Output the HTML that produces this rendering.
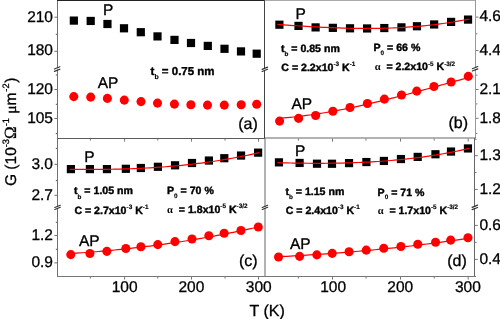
<!DOCTYPE html>
<html><head><meta charset="utf-8"><style>
html,body{margin:0;padding:0;background:#fff;}
body{width:500px;height:319px;overflow:hidden;}
svg{display:block;text-rendering:geometricPrecision;font-family:"Liberation Sans",sans-serif;}
</style></head><body>
<svg width="500" height="319" viewBox="0 0 500 319">
<rect width="500" height="319" fill="#fff"/>
<line x1="57.5" y1="0" x2="57.5" y2="277" stroke="#707070" stroke-width="1"/>
<line x1="57" y1="0.5" x2="265" y2="0.5" stroke="#222" stroke-width="1"/>
<line x1="265" y1="0.5" x2="476" y2="0.5" stroke="#aaa" stroke-width="1"/>
<line x1="264.5" y1="0" x2="264.5" y2="138.5" stroke="#444" stroke-width="1"/>
<line x1="265" y1="138.5" x2="265" y2="277" stroke="#666" stroke-width="1"/>
<line x1="475.5" y1="0" x2="475.5" y2="138" stroke="#999" stroke-width="1"/>
<line x1="474.5" y1="138" x2="474.5" y2="277" stroke="#666" stroke-width="1"/>
<line x1="57" y1="138.5" x2="265" y2="138.5" stroke="#5a5a5a" stroke-width="1"/>
<line x1="265" y1="138" x2="476" y2="138" stroke="#666" stroke-width="1"/>
<line x1="57" y1="276.5" x2="476" y2="276.5" stroke="#777" stroke-width="1"/>
<line x1="54.4" y1="17.2" x2="57" y2="17.2" stroke="#707070" stroke-width="1"/>
<line x1="54.4" y1="51.3" x2="57" y2="51.3" stroke="#707070" stroke-width="1"/>
<line x1="54.4" y1="89.5" x2="57" y2="89.5" stroke="#707070" stroke-width="1"/>
<line x1="54.4" y1="118.5" x2="57" y2="118.5" stroke="#707070" stroke-width="1"/>
<line x1="54.4" y1="164.3" x2="57" y2="164.3" stroke="#707070" stroke-width="1"/>
<line x1="54.4" y1="195.3" x2="57" y2="195.3" stroke="#707070" stroke-width="1"/>
<line x1="54.4" y1="235.5" x2="57" y2="235.5" stroke="#707070" stroke-width="1"/>
<line x1="54.4" y1="262.9" x2="57" y2="262.9" stroke="#707070" stroke-width="1"/>
<line x1="55.8" y1="34.3" x2="57" y2="34.3" stroke="#555" stroke-width="1"/>
<line x1="55.8" y1="75" x2="57" y2="75" stroke="#555" stroke-width="1"/>
<line x1="55.8" y1="104.3" x2="57" y2="104.3" stroke="#555" stroke-width="1"/>
<line x1="55.8" y1="133.6" x2="57" y2="133.6" stroke="#555" stroke-width="1"/>
<line x1="55.8" y1="148.4" x2="57" y2="148.4" stroke="#555" stroke-width="1"/>
<line x1="55.8" y1="180.6" x2="57" y2="180.6" stroke="#555" stroke-width="1"/>
<line x1="55.8" y1="222.3" x2="57" y2="222.3" stroke="#555" stroke-width="1"/>
<line x1="55.8" y1="249.3" x2="57" y2="249.3" stroke="#555" stroke-width="1"/>
<line x1="476" y1="17.1" x2="478.5" y2="17.1" stroke="#777" stroke-width="1"/>
<line x1="476" y1="50.5" x2="478.5" y2="50.5" stroke="#777" stroke-width="1"/>
<line x1="476" y1="89.5" x2="478.5" y2="89.5" stroke="#777" stroke-width="1"/>
<line x1="476" y1="118.3" x2="478.5" y2="118.3" stroke="#777" stroke-width="1"/>
<line x1="475" y1="155.7" x2="477.8" y2="155.7" stroke="#777" stroke-width="1"/>
<line x1="475" y1="189.4" x2="477.8" y2="189.4" stroke="#777" stroke-width="1"/>
<line x1="475" y1="225.4" x2="477.8" y2="225.4" stroke="#777" stroke-width="1"/>
<line x1="475" y1="259.4" x2="477.8" y2="259.4" stroke="#777" stroke-width="1"/>
<line x1="476" y1="33.8" x2="477.4" y2="33.8" stroke="#777" stroke-width="1"/>
<line x1="476" y1="75.1" x2="477.4" y2="75.1" stroke="#777" stroke-width="1"/>
<line x1="476" y1="103.9" x2="477.4" y2="103.9" stroke="#777" stroke-width="1"/>
<line x1="476" y1="133.4" x2="477.4" y2="133.4" stroke="#777" stroke-width="1"/>
<line x1="475" y1="139.3" x2="476.6" y2="139.3" stroke="#777" stroke-width="1"/>
<line x1="475" y1="172.5" x2="476.6" y2="172.5" stroke="#777" stroke-width="1"/>
<line x1="475" y1="242.4" x2="476.6" y2="242.4" stroke="#777" stroke-width="1"/>
<line x1="90.4" y1="277" x2="90.4" y2="278.6" stroke="#777" stroke-width="1"/>
<line x1="90.4" y1="139" x2="90.4" y2="140.6" stroke="#777" stroke-width="1"/>
<line x1="124.6" y1="277" x2="124.6" y2="279.6" stroke="#777" stroke-width="1"/>
<line x1="124.6" y1="139" x2="124.6" y2="141.6" stroke="#777" stroke-width="1"/>
<line x1="157.8" y1="277" x2="157.8" y2="278.6" stroke="#777" stroke-width="1"/>
<line x1="157.8" y1="139" x2="157.8" y2="140.6" stroke="#777" stroke-width="1"/>
<line x1="191.5" y1="277" x2="191.5" y2="279.6" stroke="#777" stroke-width="1"/>
<line x1="191.5" y1="139" x2="191.5" y2="141.6" stroke="#777" stroke-width="1"/>
<line x1="225" y1="277" x2="225" y2="278.6" stroke="#777" stroke-width="1"/>
<line x1="225" y1="139" x2="225" y2="140.6" stroke="#777" stroke-width="1"/>
<line x1="258.5" y1="277" x2="258.5" y2="279.6" stroke="#777" stroke-width="1"/>
<line x1="258.5" y1="139" x2="258.5" y2="141.6" stroke="#777" stroke-width="1"/>
<line x1="298.4" y1="277" x2="298.4" y2="278.6" stroke="#777" stroke-width="1"/>
<line x1="298.4" y1="138.5" x2="298.4" y2="140.6" stroke="#777" stroke-width="1"/>
<line x1="332.5" y1="277" x2="332.5" y2="279.6" stroke="#777" stroke-width="1"/>
<line x1="332.5" y1="138.5" x2="332.5" y2="141.6" stroke="#777" stroke-width="1"/>
<line x1="366" y1="277" x2="366" y2="278.6" stroke="#777" stroke-width="1"/>
<line x1="366" y1="138.5" x2="366" y2="140.6" stroke="#777" stroke-width="1"/>
<line x1="400.5" y1="277" x2="400.5" y2="279.6" stroke="#777" stroke-width="1"/>
<line x1="400.5" y1="138.5" x2="400.5" y2="141.6" stroke="#777" stroke-width="1"/>
<line x1="434.2" y1="277" x2="434.2" y2="278.6" stroke="#777" stroke-width="1"/>
<line x1="434.2" y1="138.5" x2="434.2" y2="140.6" stroke="#777" stroke-width="1"/>
<line x1="468.2" y1="277" x2="468.2" y2="279.6" stroke="#777" stroke-width="1"/>
<line x1="468.2" y1="138.5" x2="468.2" y2="141.6" stroke="#777" stroke-width="1"/>
<polygon points="55.65,69.05 58.65,67.85 58.65,69.10 55.65,70.30" fill="#fff"/>
<g stroke="#333" stroke-width="1.15" stroke-linecap="round"><line x1="54.40" y1="68.95" x2="59.90" y2="66.75"/><line x1="54.40" y1="71.40" x2="59.90" y2="69.20"/></g>
<polygon points="263.35,69.45 266.35,68.25 266.35,69.20 263.35,70.40" fill="#fff"/>
<g stroke="#333" stroke-width="1.15" stroke-linecap="round"><line x1="262.10" y1="69.35" x2="267.60" y2="67.15"/><line x1="262.10" y1="71.50" x2="267.60" y2="69.30"/></g>
<polygon points="473.60,68.85 476.60,67.65 476.60,68.75 473.60,69.95" fill="#fff"/>
<g stroke="#333" stroke-width="1.15" stroke-linecap="round"><line x1="472.35" y1="68.75" x2="477.85" y2="66.55"/><line x1="472.35" y1="71.05" x2="477.85" y2="68.85"/></g>
<polygon points="56.05,207.55 59.05,206.35 59.05,207.20 56.05,208.40" fill="#fff"/>
<g stroke="#333" stroke-width="1.15" stroke-linecap="round"><line x1="54.80" y1="207.45" x2="60.30" y2="205.25"/><line x1="54.80" y1="209.50" x2="60.30" y2="207.30"/></g>
<polygon points="263.45,207.55 266.45,206.35 266.45,207.20 263.45,208.40" fill="#fff"/>
<g stroke="#333" stroke-width="1.15" stroke-linecap="round"><line x1="262.20" y1="207.45" x2="267.70" y2="205.25"/><line x1="262.20" y1="209.50" x2="267.70" y2="207.30"/></g>
<polygon points="473.35,207.45 476.35,206.25 476.35,207.35 473.35,208.55" fill="#fff"/>
<g stroke="#333" stroke-width="1.15" stroke-linecap="round"><line x1="472.10" y1="207.35" x2="477.60" y2="205.15"/><line x1="472.10" y1="209.65" x2="477.60" y2="207.45"/></g>
<rect x="69.75" y="16.50" width="8.2" height="8.2" fill="#000"/>
<rect x="86.60" y="16.85" width="8.2" height="8.2" fill="#000"/>
<rect x="103.35" y="19.90" width="8.2" height="8.2" fill="#000"/>
<rect x="119.90" y="24.20" width="8.2" height="8.2" fill="#000"/>
<rect x="136.70" y="28.10" width="8.2" height="8.2" fill="#000"/>
<rect x="153.40" y="32.30" width="8.2" height="8.2" fill="#000"/>
<rect x="170.40" y="35.80" width="8.2" height="8.2" fill="#000"/>
<rect x="186.90" y="38.90" width="8.2" height="8.2" fill="#000"/>
<rect x="203.70" y="41.80" width="8.2" height="8.2" fill="#000"/>
<rect x="220.40" y="44.70" width="8.2" height="8.2" fill="#000"/>
<rect x="236.90" y="47.30" width="8.2" height="8.2" fill="#000"/>
<rect x="252.60" y="49.60" width="8.2" height="8.2" fill="#000"/>
<circle cx="73.80" cy="96.60" r="4.55" fill="#ff0000"/>
<circle cx="90.70" cy="97.10" r="4.55" fill="#ff0000"/>
<circle cx="107.40" cy="98.40" r="4.55" fill="#ff0000"/>
<circle cx="124.30" cy="100.10" r="4.55" fill="#ff0000"/>
<circle cx="141.00" cy="101.60" r="4.55" fill="#ff0000"/>
<circle cx="157.50" cy="103.10" r="4.55" fill="#ff0000"/>
<circle cx="174.40" cy="104.10" r="4.55" fill="#ff0000"/>
<circle cx="190.90" cy="104.80" r="4.55" fill="#ff0000"/>
<circle cx="207.50" cy="105.10" r="4.55" fill="#ff0000"/>
<circle cx="224.30" cy="105.10" r="4.55" fill="#ff0000"/>
<circle cx="241.20" cy="104.80" r="4.55" fill="#ff0000"/>
<circle cx="256.70" cy="104.30" r="4.55" fill="#ff0000"/>
<rect x="275.30" y="20.60" width="8.2" height="8.2" fill="#000"/>
<rect x="294.40" y="21.80" width="8.2" height="8.2" fill="#000"/>
<rect x="311.50" y="23.30" width="8.2" height="8.2" fill="#000"/>
<rect x="328.75" y="23.75" width="8.2" height="8.2" fill="#000"/>
<rect x="345.90" y="24.20" width="8.2" height="8.2" fill="#000"/>
<rect x="363.00" y="24.35" width="8.2" height="8.2" fill="#000"/>
<rect x="380.20" y="23.95" width="8.2" height="8.2" fill="#000"/>
<rect x="397.35" y="23.25" width="8.2" height="8.2" fill="#000"/>
<rect x="412.85" y="22.15" width="8.2" height="8.2" fill="#000"/>
<rect x="430.05" y="20.35" width="8.2" height="8.2" fill="#000"/>
<rect x="447.00" y="17.80" width="8.2" height="8.2" fill="#000"/>
<rect x="463.95" y="15.50" width="8.2" height="8.2" fill="#000"/>
<circle cx="279.60" cy="121.10" r="4.55" fill="#ff0000"/>
<circle cx="298.60" cy="118.40" r="4.55" fill="#ff0000"/>
<circle cx="315.65" cy="115.50" r="4.55" fill="#ff0000"/>
<circle cx="332.90" cy="111.30" r="4.55" fill="#ff0000"/>
<circle cx="350.00" cy="107.45" r="4.55" fill="#ff0000"/>
<circle cx="367.40" cy="103.50" r="4.55" fill="#ff0000"/>
<circle cx="384.40" cy="99.15" r="4.55" fill="#ff0000"/>
<circle cx="401.50" cy="95.05" r="4.55" fill="#ff0000"/>
<circle cx="416.75" cy="91.15" r="4.55" fill="#ff0000"/>
<circle cx="433.95" cy="86.55" r="4.55" fill="#ff0000"/>
<circle cx="451.15" cy="82.00" r="4.55" fill="#ff0000"/>
<circle cx="468.30" cy="76.35" r="4.55" fill="#ff0000"/>
<rect x="66.80" y="165.00" width="8.2" height="8.2" fill="#000"/>
<rect x="85.80" y="165.00" width="8.2" height="8.2" fill="#000"/>
<rect x="102.85" y="165.00" width="8.2" height="8.2" fill="#000"/>
<rect x="121.75" y="164.70" width="8.2" height="8.2" fill="#000"/>
<rect x="136.75" y="163.90" width="8.2" height="8.2" fill="#000"/>
<rect x="153.80" y="162.70" width="8.2" height="8.2" fill="#000"/>
<rect x="170.95" y="161.20" width="8.2" height="8.2" fill="#000"/>
<rect x="187.90" y="158.90" width="8.2" height="8.2" fill="#000"/>
<rect x="204.80" y="156.45" width="8.2" height="8.2" fill="#000"/>
<rect x="220.20" y="154.10" width="8.2" height="8.2" fill="#000"/>
<rect x="236.95" y="151.45" width="8.2" height="8.2" fill="#000"/>
<rect x="254.00" y="148.55" width="8.2" height="8.2" fill="#000"/>
<circle cx="70.80" cy="254.60" r="4.55" fill="#ff0000"/>
<circle cx="89.90" cy="253.55" r="4.55" fill="#ff0000"/>
<circle cx="106.85" cy="251.35" r="4.55" fill="#ff0000"/>
<circle cx="125.85" cy="248.50" r="4.55" fill="#ff0000"/>
<circle cx="140.90" cy="246.70" r="4.55" fill="#ff0000"/>
<circle cx="157.80" cy="244.60" r="4.55" fill="#ff0000"/>
<circle cx="174.95" cy="241.60" r="4.55" fill="#ff0000"/>
<circle cx="192.00" cy="239.00" r="4.55" fill="#ff0000"/>
<circle cx="208.85" cy="235.80" r="4.55" fill="#ff0000"/>
<circle cx="224.15" cy="233.30" r="4.55" fill="#ff0000"/>
<circle cx="240.95" cy="230.55" r="4.55" fill="#ff0000"/>
<circle cx="258.30" cy="226.95" r="4.55" fill="#ff0000"/>
<rect x="274.85" y="158.25" width="8.2" height="8.2" fill="#000"/>
<rect x="295.50" y="158.85" width="8.2" height="8.2" fill="#000"/>
<rect x="312.90" y="159.60" width="8.2" height="8.2" fill="#000"/>
<rect x="327.90" y="159.65" width="8.2" height="8.2" fill="#000"/>
<rect x="344.95" y="159.00" width="8.2" height="8.2" fill="#000"/>
<rect x="362.30" y="157.95" width="8.2" height="8.2" fill="#000"/>
<rect x="379.80" y="156.85" width="8.2" height="8.2" fill="#000"/>
<rect x="396.85" y="154.95" width="8.2" height="8.2" fill="#000"/>
<rect x="413.60" y="152.80" width="8.2" height="8.2" fill="#000"/>
<rect x="431.35" y="150.15" width="8.2" height="8.2" fill="#000"/>
<rect x="446.90" y="147.45" width="8.2" height="8.2" fill="#000"/>
<rect x="463.85" y="144.35" width="8.2" height="8.2" fill="#000"/>
<circle cx="278.55" cy="256.95" r="4.55" fill="#ff0000"/>
<circle cx="299.60" cy="256.35" r="4.55" fill="#ff0000"/>
<circle cx="316.85" cy="254.85" r="4.55" fill="#ff0000"/>
<circle cx="332.20" cy="253.40" r="4.55" fill="#ff0000"/>
<circle cx="349.10" cy="251.70" r="4.55" fill="#ff0000"/>
<circle cx="366.25" cy="250.15" r="4.55" fill="#ff0000"/>
<circle cx="383.75" cy="248.30" r="4.55" fill="#ff0000"/>
<circle cx="400.90" cy="246.50" r="4.55" fill="#ff0000"/>
<circle cx="417.80" cy="244.30" r="4.55" fill="#ff0000"/>
<circle cx="435.55" cy="242.25" r="4.55" fill="#ff0000"/>
<circle cx="450.70" cy="240.15" r="4.55" fill="#ff0000"/>
<circle cx="467.95" cy="237.80" r="4.55" fill="#ff0000"/>
<path d="M277.30,24.40 L280.55,24.64 L283.81,24.87 L287.06,25.10 L290.31,25.33 L293.56,25.55 L296.82,25.77 L300.07,25.98 L303.32,26.19 L306.57,26.39 L309.83,26.58 L313.08,26.77 L316.33,26.95 L319.58,27.12 L322.84,27.28 L326.09,27.43 L329.34,27.58 L332.59,27.71 L335.85,27.84 L339.10,27.95 L342.35,28.06 L345.60,28.15 L348.86,28.23 L352.11,28.30 L355.36,28.35 L358.61,28.40 L361.87,28.42 L365.12,28.44 L368.37,28.44 L371.62,28.43 L374.88,28.40 L378.13,28.35 L381.38,28.29 L384.63,28.21 L387.89,28.12 L391.14,28.00 L394.39,27.87 L397.64,27.73 L400.90,27.56 L404.15,27.37 L407.40,27.17 L410.65,26.94 L413.91,26.69 L417.16,26.43 L420.41,26.14 L423.66,25.83 L426.92,25.50 L430.17,25.14 L433.42,24.77 L436.67,24.36 L439.93,23.94 L443.18,23.49 L446.43,23.02 L449.68,22.52 L452.94,21.99 L456.19,21.44 L459.44,20.86 L462.69,20.26 L465.95,19.63 L469.20,18.97" fill="none" stroke="#ff0000" stroke-width="1.2" stroke-linejoin="round"/>
<path d="M277.30,118.45 L280.55,118.21 L283.81,117.95 L287.06,117.66 L290.31,117.35 L293.56,117.02 L296.82,116.66 L300.07,116.28 L303.32,115.88 L306.57,115.45 L309.83,115.01 L313.08,114.54 L316.33,114.05 L319.58,113.55 L322.84,113.02 L326.09,112.48 L329.34,111.92 L332.59,111.34 L335.85,110.74 L339.10,110.13 L342.35,109.50 L345.60,108.85 L348.86,108.19 L352.11,107.51 L355.36,106.82 L358.61,106.12 L361.87,105.40 L365.12,104.67 L368.37,103.93 L371.62,103.17 L374.88,102.41 L378.13,101.63 L381.38,100.84 L384.63,100.05 L387.89,99.24 L391.14,98.42 L394.39,97.60 L397.64,96.77 L400.90,95.92 L404.15,95.08 L407.40,94.22 L410.65,93.36 L413.91,92.50 L417.16,91.63 L420.41,90.75 L423.66,89.87 L426.92,88.99 L430.17,88.10 L433.42,87.21 L436.67,86.32 L439.93,85.42 L443.18,84.53 L446.43,83.63 L449.68,82.74 L452.94,81.84 L456.19,80.95 L459.44,80.05 L462.69,79.16 L465.95,78.27 L469.20,77.38" fill="none" stroke="#ff0000" stroke-width="1.2" stroke-linejoin="round"/>
<path d="M69.80,169.28 L73.01,169.32 L76.21,169.36 L79.42,169.39 L82.63,169.41 L85.83,169.43 L89.04,169.44 L92.25,169.44 L95.45,169.43 L98.66,169.42 L101.87,169.39 L105.07,169.36 L108.28,169.32 L111.49,169.26 L114.69,169.20 L117.90,169.13 L121.11,169.05 L124.32,168.96 L127.52,168.86 L130.73,168.75 L133.94,168.62 L137.14,168.49 L140.35,168.34 L143.56,168.18 L146.76,168.01 L149.97,167.83 L153.18,167.64 L156.38,167.43 L159.59,167.21 L162.80,166.98 L166.00,166.73 L169.21,166.47 L172.42,166.19 L175.62,165.90 L178.83,165.60 L182.04,165.28 L185.24,164.95 L188.45,164.60 L191.66,164.24 L194.86,163.86 L198.07,163.47 L201.28,163.05 L204.48,162.63 L207.69,162.18 L210.90,161.72 L214.11,161.24 L217.31,160.75 L220.52,160.24 L223.73,159.70 L226.93,159.16 L230.14,158.59 L233.35,158.00 L236.55,157.40 L239.76,156.77 L242.97,156.13 L246.17,155.47 L249.38,154.79 L252.59,154.08 L255.79,153.36 L259.00,152.62" fill="none" stroke="#ff0000" stroke-width="1.2" stroke-linejoin="round"/>
<path d="M69.80,253.60 L73.01,253.39 L76.21,253.18 L79.42,252.96 L82.63,252.74 L85.83,252.50 L89.04,252.26 L92.25,252.00 L95.45,251.74 L98.66,251.48 L101.87,251.20 L105.07,250.91 L108.28,250.62 L111.49,250.32 L114.69,250.01 L117.90,249.69 L121.11,249.36 L124.32,249.03 L127.52,248.68 L130.73,248.33 L133.94,247.97 L137.14,247.60 L140.35,247.22 L143.56,246.83 L146.76,246.44 L149.97,246.03 L153.18,245.62 L156.38,245.19 L159.59,244.76 L162.80,244.32 L166.00,243.87 L169.21,243.42 L172.42,242.95 L175.62,242.47 L178.83,241.99 L182.04,241.49 L185.24,240.99 L188.45,240.48 L191.66,239.95 L194.86,239.42 L198.07,238.88 L201.28,238.33 L204.48,237.77 L207.69,237.21 L210.90,236.63 L214.11,236.04 L217.31,235.44 L220.52,234.84 L223.73,234.22 L226.93,233.60 L230.14,232.96 L233.35,232.32 L236.55,231.66 L239.76,231.00 L242.97,230.33 L246.17,229.64 L249.38,228.95 L252.59,228.25 L255.79,227.53 L259.00,226.81" fill="none" stroke="#ff0000" stroke-width="1.2" stroke-linejoin="round"/>
<path d="M277.30,162.72 L280.55,162.80 L283.81,162.88 L287.06,162.94 L290.31,163.01 L293.56,163.07 L296.82,163.12 L300.07,163.17 L303.32,163.20 L306.57,163.24 L309.83,163.26 L313.08,163.28 L316.33,163.29 L319.58,163.29 L322.84,163.28 L326.09,163.26 L329.34,163.24 L332.59,163.20 L335.85,163.15 L339.10,163.10 L342.35,163.03 L345.60,162.95 L348.86,162.86 L352.11,162.76 L355.36,162.64 L358.61,162.52 L361.87,162.38 L365.12,162.22 L368.37,162.06 L371.62,161.88 L374.88,161.68 L378.13,161.48 L381.38,161.25 L384.63,161.01 L387.89,160.76 L391.14,160.49 L394.39,160.20 L397.64,159.90 L400.90,159.58 L404.15,159.25 L407.40,158.89 L410.65,158.52 L413.91,158.13 L417.16,157.72 L420.41,157.29 L423.66,156.85 L426.92,156.38 L430.17,155.89 L433.42,155.39 L436.67,154.86 L439.93,154.31 L443.18,153.74 L446.43,153.15 L449.68,152.54 L452.94,151.91 L456.19,151.25 L459.44,150.57 L462.69,149.86 L465.95,149.14 L469.20,148.39" fill="none" stroke="#ff0000" stroke-width="1.2" stroke-linejoin="round"/>
<path d="M277.30,256.80 L280.55,256.63 L283.81,256.46 L287.06,256.28 L290.31,256.10 L293.56,255.91 L296.82,255.72 L300.07,255.52 L303.32,255.32 L306.57,255.12 L309.83,254.91 L313.08,254.70 L316.33,254.48 L319.58,254.26 L322.84,254.03 L326.09,253.80 L329.34,253.57 L332.59,253.33 L335.85,253.08 L339.10,252.83 L342.35,252.58 L345.60,252.32 L348.86,252.05 L352.11,251.79 L355.36,251.51 L358.61,251.23 L361.87,250.94 L365.12,250.65 L368.37,250.36 L371.62,250.05 L374.88,249.75 L378.13,249.43 L381.38,249.12 L384.63,248.79 L387.89,248.46 L391.14,248.12 L394.39,247.78 L397.64,247.43 L400.90,247.08 L404.15,246.72 L407.40,246.35 L410.65,245.98 L413.91,245.60 L417.16,245.21 L420.41,244.82 L423.66,244.42 L426.92,244.02 L430.17,243.61 L433.42,243.19 L436.67,242.76 L439.93,242.33 L443.18,241.89 L446.43,241.44 L449.68,240.99 L452.94,240.53 L456.19,240.06 L459.44,239.59 L462.69,239.11 L465.95,238.62 L469.20,238.12" fill="none" stroke="#ff0000" stroke-width="1.2" stroke-linejoin="round"/>
<text x="53.0" y="21.6" font-size="15.5" text-anchor="end" font-weight="normal" stroke="#000" stroke-width="0.3" >210</text>
<text x="53.0" y="55.3" font-size="15.5" text-anchor="end" font-weight="normal" stroke="#000" stroke-width="0.3" >180</text>
<text x="53.0" y="94.0" font-size="15.5" text-anchor="end" font-weight="normal" stroke="#000" stroke-width="0.3" >120</text>
<text x="53.0" y="123.2" font-size="15.5" text-anchor="end" font-weight="normal" stroke="#000" stroke-width="0.3" >105</text>
<text x="53.0" y="168.9" font-size="15.5" text-anchor="end" font-weight="normal" stroke="#000" stroke-width="0.3" >3.0</text>
<text x="53.0" y="199.9" font-size="15.5" text-anchor="end" font-weight="normal" stroke="#000" stroke-width="0.3" >2.7</text>
<text x="53.0" y="240" font-size="15.5" text-anchor="end" font-weight="normal" stroke="#000" stroke-width="0.3" >1.2</text>
<text x="53.0" y="267" font-size="15.5" text-anchor="end" font-weight="normal" stroke="#000" stroke-width="0.3" >0.9</text>
<text x="479.4" y="20.7" font-size="15.5" text-anchor="start" font-weight="normal" stroke="#000" stroke-width="0.3" >4.6</text>
<text x="479.4" y="54.6" font-size="15.5" text-anchor="start" font-weight="normal" stroke="#000" stroke-width="0.3" >4.4</text>
<text x="479.4" y="94.2" font-size="15.5" text-anchor="start" font-weight="normal" stroke="#000" stroke-width="0.3" >2.1</text>
<text x="479.4" y="122.8" font-size="15.5" text-anchor="start" font-weight="normal" stroke="#000" stroke-width="0.3" >1.8</text>
<text x="479.4" y="160.2" font-size="15.5" text-anchor="start" font-weight="normal" stroke="#000" stroke-width="0.3" >1.3</text>
<text x="479.4" y="193.7" font-size="15.5" text-anchor="start" font-weight="normal" stroke="#000" stroke-width="0.3" >1.2</text>
<text x="479.4" y="229.8" font-size="15.5" text-anchor="start" font-weight="normal" stroke="#000" stroke-width="0.3" >0.6</text>
<text x="479.4" y="263.5" font-size="15.5" text-anchor="start" font-weight="normal" stroke="#000" stroke-width="0.3" >0.4</text>
<text x="124.6" y="292.2" font-size="15.5" text-anchor="middle" font-weight="normal" stroke="#000" stroke-width="0.3" >100</text>
<text x="191.4" y="292.2" font-size="15.5" text-anchor="middle" font-weight="normal" stroke="#000" stroke-width="0.3" >200</text>
<text x="258.8" y="292.2" font-size="15.5" text-anchor="middle" font-weight="normal" stroke="#000" stroke-width="0.3" >300</text>
<text x="333.2" y="292.2" font-size="15.5" text-anchor="middle" font-weight="normal" stroke="#000" stroke-width="0.3" >100</text>
<text x="400.3" y="292.2" font-size="15.5" text-anchor="middle" font-weight="normal" stroke="#000" stroke-width="0.3" >200</text>
<text x="467.9" y="292.2" font-size="15.5" text-anchor="middle" font-weight="normal" stroke="#000" stroke-width="0.3" >300</text>
<text x="267.2" y="316.2" font-size="16" text-anchor="middle" font-weight="normal" stroke="#000" stroke-width="0.3" >T (K)</text>
<text x="103.0" y="15.1" font-size="15.5" text-anchor="start" font-weight="normal" stroke="#000" stroke-width="0.3" >P</text>
<text x="97.7" y="88.4" font-size="15.5" text-anchor="start" font-weight="normal" stroke="#000" stroke-width="0.3" >AP</text>
<text x="295.4" y="18.8" font-size="15.5" text-anchor="start" font-weight="normal" stroke="#000" stroke-width="0.3" >P</text>
<text x="291.5" y="108.9" font-size="15.5" text-anchor="start" font-weight="normal" stroke="#000" stroke-width="0.3" >AP</text>
<text x="84.2" y="161.8" font-size="15.5" text-anchor="start" font-weight="normal" stroke="#000" stroke-width="0.3" >P</text>
<text x="78.9" y="245.6" font-size="15.5" text-anchor="start" font-weight="normal" stroke="#000" stroke-width="0.3" >AP</text>
<text x="295.1" y="155.9" font-size="15.5" text-anchor="start" font-weight="normal" stroke="#000" stroke-width="0.3" >P</text>
<text x="289.9" y="248.9" font-size="15.5" text-anchor="start" font-weight="normal" stroke="#000" stroke-width="0.3" >AP</text>
<text x="248.0" y="128.8" font-size="16" text-anchor="middle" font-weight="normal" stroke="#000" stroke-width="0.3" >(a)</text>
<text x="458.2" y="128.2" font-size="16" text-anchor="middle" font-weight="normal" stroke="#000" stroke-width="0.3" >(b)</text>
<text x="248.3" y="265.5" font-size="16" text-anchor="middle" font-weight="normal" stroke="#000" stroke-width="0.3" >(c)</text>
<text x="457.0" y="265.5" font-size="16" text-anchor="middle" font-weight="normal" stroke="#000" stroke-width="0.3" >(d)</text>
<text x="150.6" y="75.3" font-size="11.5" font-weight="bold" stroke="#000" stroke-width="0.4">t<tspan font-size="6.90" dy="4.00" stroke-width="0.15">b</tspan><tspan dy="-4.00" dx="0"> = 0.75 nm</tspan></text>
<text x="280.9" y="51.6" font-size="10.6" font-weight="bold" stroke="#000" stroke-width="0.4">t<tspan font-size="6.36" dy="4.30" stroke-width="0.15">b</tspan><tspan dy="-4.30" dx="0"> = 0.85 nm</tspan></text>
<text x="373.5" y="50.8" font-size="10.6" font-weight="bold" stroke="#000" stroke-width="0.4">P<tspan font-size="6.36" dy="3.70" stroke-width="0.15">0</tspan><tspan dy="-3.70" dx="0"> = 66 %</tspan></text>
<text x="281.3" y="70.8" font-size="10.6" font-weight="bold" stroke="#000" stroke-width="0.4">C = 2.2x10<tspan font-size="6.36" dy="-4.50" stroke-width="0.15">-3</tspan><tspan dy="4.50"> K</tspan><tspan font-size="6.36" dy="-4.50" stroke-width="0.15">-1</tspan></text>
<text x="374.7" y="70.1" font-size="10.6" font-family="Liberation Serif, serif" font-weight="bold">α</text>
<text x="386.4" y="70.1" font-size="10.6" font-weight="bold" stroke="#000" stroke-width="0.4">= 2.2x10<tspan font-size="6.36" dy="-4.50" stroke-width="0.15">-5</tspan><tspan dy="4.50"> K</tspan><tspan font-size="6.36" dy="-4.50" stroke-width="0.15">-3/2</tspan></text>
<text x="74.0" y="194.4" font-size="10.6" font-weight="bold" stroke="#000" stroke-width="0.4">t<tspan font-size="6.36" dy="4.30" stroke-width="0.15">b</tspan><tspan dy="-4.30" dx="0"> = 1.05 nm</tspan></text>
<text x="167.0" y="194.3" font-size="10.6" font-weight="bold" stroke="#000" stroke-width="0.4">P<tspan font-size="6.36" dy="3.70" stroke-width="0.15">0</tspan><tspan dy="-3.70" dx="0"> = 70 %</tspan></text>
<text x="74.4" y="213.5" font-size="10.6" font-weight="bold" stroke="#000" stroke-width="0.4">C = 2.7x10<tspan font-size="6.36" dy="-4.50" stroke-width="0.15">-3</tspan><tspan dy="4.50"> K</tspan><tspan font-size="6.36" dy="-4.50" stroke-width="0.15">-1</tspan></text>
<text x="167.1" y="212.7" font-size="10.6" font-family="Liberation Serif, serif" font-weight="bold">α</text>
<text x="178.8" y="212.7" font-size="10.6" font-weight="bold" stroke="#000" stroke-width="0.4">= 1.8x10<tspan font-size="6.36" dy="-4.50" stroke-width="0.15">-5</tspan><tspan dy="4.50"> K</tspan><tspan font-size="6.36" dy="-4.50" stroke-width="0.15">-3/2</tspan></text>
<text x="285.4" y="194.8" font-size="10.6" font-weight="bold" stroke="#000" stroke-width="0.4">t<tspan font-size="6.36" dy="4.30" stroke-width="0.15">b</tspan><tspan dy="-4.30" dx="0"> = 1.15 nm</tspan></text>
<text x="377.6" y="195.6" font-size="10.6" font-weight="bold" stroke="#000" stroke-width="0.4">P<tspan font-size="6.36" dy="3.70" stroke-width="0.15">0</tspan><tspan dy="-3.70" dx="0"> = 71 %</tspan></text>
<text x="285.7" y="213.8" font-size="10.6" font-weight="bold" stroke="#000" stroke-width="0.4">C = 2.4x10<tspan font-size="6.36" dy="-4.50" stroke-width="0.15">-3</tspan><tspan dy="4.50"> K</tspan><tspan font-size="6.36" dy="-4.50" stroke-width="0.15">-1</tspan></text>
<text x="377.7" y="213.8" font-size="10.6" font-family="Liberation Serif, serif" font-weight="bold">α</text>
<text x="389.4" y="213.8" font-size="10.6" font-weight="bold" stroke="#000" stroke-width="0.4">= 1.7x10<tspan font-size="6.36" dy="-4.50" stroke-width="0.15">-5</tspan><tspan dy="4.50"> K</tspan><tspan font-size="6.36" dy="-4.50" stroke-width="0.15">-3/2</tspan></text>
<text transform="translate(16.1,186) rotate(-90)" font-size="15.5" stroke="#000" stroke-width="0.3">G (10<tspan font-size="9.30" dy="-7.6">-3</tspan><tspan dy="7.6" font-family="Liberation Serif, serif" font-size="17">Ω</tspan><tspan font-size="9.30" dy="-7.6">-1</tspan><tspan dy="7.6"> </tspan><tspan font-family="Liberation Serif, serif">μ</tspan>m<tspan font-size="9.30" dy="-7.6" dx="0.8">-2</tspan><tspan dy="7.6" dx="0.6">)</tspan></text>
</svg></body></html>
